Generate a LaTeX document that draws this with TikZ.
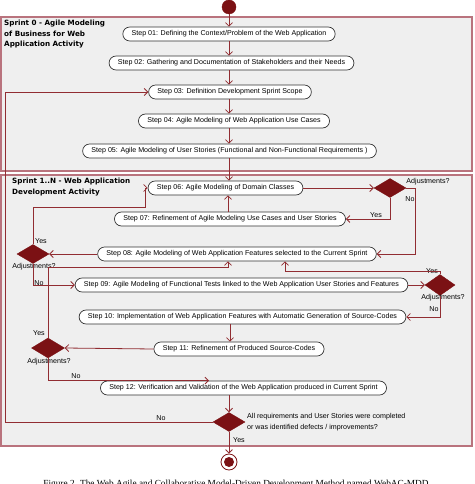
\documentclass[tikz,border=0pt]{standalone}
\usepackage{fontspec}
\setmainfont{Liberation Sans}
\newfontfamily\titlefont{DejaVu Sans}
\newfontfamily\capfont{Liberation Serif}
\usetikzlibrary{arrows.meta,shapes.geometric,shapes.misc}
\definecolor{conn}{RGB}{145,45,50}
\definecolor{dred}{RGB}{123,17,20}
\definecolor{framec}{RGB}{185,115,125}
\definecolor{bgc}{RGB}{239,239,239}
\definecolor{pillb}{RGB}{50,50,50}
\tikzset{
 stepbox/.style={draw=pillb, line width=0.7pt, fill=white, rounded rectangle, minimum height=14pt, inner xsep=8pt, inner ysep=0pt, font=\fontsize{7.1}{8}\selectfont},
 decision/.style={diamond, fill=dred, draw=dred, inner sep=0pt, minimum width=32pt, minimum height=19pt},
 flow/.style={draw=conn, line width=0.8pt, -{Straight Barb[length=3.5pt,width=7pt]}},
 lbl/.style={font=\fontsize{7.1}{11}\selectfont, inner sep=0pt},
 sprint/.style={draw=framec, line width=1.2pt, fill=bgc},
 ttl/.style={font=\titlefont\bfseries\fontsize{7.2}{10.5}\selectfont, align=left, inner sep=0pt, anchor=north west},
}
\begin{document}
\begin{tikzpicture}[x=1pt,y=-1pt]
\clip (0,0) rectangle (474,484);
\fill[white] (0,0) rectangle (474,484);
% sprint frames
\draw[sprint] (1,17) rectangle (472,171);
\draw[sprint] (1,175) rectangle (472,446);
\node[ttl] (t0) at (4,20) {Sprint 0 - Agile Modeling\\of Business for Web\\Application Activity};
\node[ttl] (t1) at (12,178) {Sprint 1..N - Web Application\\Development Activity};
\coordinate (spine) at (229,0);
% start / end
\node[circle, fill=dred, draw=dred, minimum size=14pt, inner sep=0pt] (start) at (229,7) {};
\node[circle, draw=dred, fill=white, line width=0.8pt, minimum size=16pt, inner sep=0pt] (end) at (229,462) {};
\node[circle, fill=dred, minimum size=10pt, inner sep=0pt] (endin) at (end) {};
% steps
\node[stepbox] (s01) at (229,34) {Step 01: Defining the Context/Problem of the Web Application};
\node[stepbox] (s02) at (231.5,63) {Step 02: Gathering and Documentation of Stakeholders and their Needs};
\node[stepbox] (s03) at (230,92) {Step 03: Definition Development Sprint Scope};
\node[stepbox] (s04) at (234,121) {Step 04: Agile Modeling of Web Application Use Cases};
\node[stepbox] (s05) at (229.5,151) {Step 05: Agile Modeling of User Stories (Functional and Non-Functional Requirements )};
\node[stepbox] (s06) at (225.5,188) {Step 06: Agile Modeling of Domain Classes};
\node[stepbox] (s07) at (230,219) {Step 07: Refinement of Agile Modeling Use Cases and User Stories};
\node[stepbox] (s08) at (237,254) {Step 08: Agile Modeling of Web Application Features selected to the Current Sprint};
\node[stepbox] (s09) at (241.5,285) {Step 09: Agile Modeling of Functional Tests linked to the Web Application User Stories and Features};
\node[stepbox] (s10) at (242.5,317) {Step 10: Implementation of Web Application Features with Automatic Generation of Source-Codes};
\node[stepbox] (s11) at (239,349) {Step 11: Refinement of Produced Source-Codes};
\node[stepbox] (s12) at (243.5,388) {Step 12: Verification and Validation of the Web Application produced in Current Sprint};
% decisions
\node[decision] (d1) at (390,188) {};
\node[decision] (d2) at (33,254) {};
\node[decision, minimum width=30pt, minimum height=21pt] (d3) at (440,285) {};
\node[decision, minimum width=33pt, minimum height=20pt] (d4) at (48,348) {};
\node[decision] (d5) at (229,422) {};
% labels
\node[lbl] (l1a) at (428,182) {Adjustments?};
\node[lbl] (l1n) at (410,199) {No};
\node[lbl] (l1y) at (376,215) {Yes};
\node[lbl] (l2y) at (41,241) {Yes};
\node[lbl] (l2a) at (34,267) {Adjustments?};
\node[lbl] (l2n) at (39,283) {No};
\node[lbl] (l3y) at (432,271) {Yes};
\node[lbl] (l3a) at (443,298) {Adjustments?};
\node[lbl] (l3n) at (434,309) {No};
\node[lbl] (l4y) at (39,333) {Yes};
\node[lbl] (l4a) at (49,362) {Adjustments?};
\node[lbl] (l4n) at (76,376) {No};
\node[lbl] (l5n) at (161,418) {No};
\node[lbl] (l5y) at (239,440) {Yes};
\node[lbl, align=left, anchor=west] (l5q) at (247,422) {All requirements and User Stories were completed\\or was identified defects / improvements?};
% connectors
\draw[flow] (start) -- (s01.north -| spine);
\draw[flow] (s01.south -| spine) -- (s02.north -| spine);
\draw[flow] (s02.south -| spine) -- (s03.north -| spine);
\draw[flow] (s03.south -| spine) -- (s04.north -| spine);
\draw[flow] (s04.south -| spine) -- (s05.north -| spine);
\draw[flow] (s05.south -| spine) -- (s06.north -| spine);
\draw[flow] (s06.east) -- (d1.west);
\draw[flow] (d1.south) |- (s07.east);
\draw[flow] (d1.east) -- ++(9,0) |- (s08.east);
\draw[flow] ([xshift=-1pt]s07.north -| spine) -- ([xshift=-1pt]s06.south -| spine);
\draw[flow] (s08.west) -- (d2.east);
\draw[flow] (d2.north) -- ++(0,-37) -- ++(112,0) |- (s06.west);
\draw[flow] (d2.south) |- (s09.west);
\draw[flow] (s09.east) -- (d3.west);
\draw[flow] (d3.north) -- ++(0,-3) -| ([xshift=48pt]s08.south);
\draw[flow] (d3.south) |- (s10.east);
\draw[flow] ([xshift=1pt]s10.south -| spine) -- ([xshift=1pt]s11.north -| spine);
\draw[flow] (s11.west) -- (d4.east);
\draw[flow] (d4.north) -- ++(0,-70) -| ([xshift=-9pt]s08.south);
\draw[flow] (d4.south) |- (s12.168);
\draw[flow] (s12.south -| spine) -- (d5.north);
\draw[flow] (d5.west) -- ++(-207,0) |- (s03.west);
\draw[flow] (d5.south) -- (end);
% caption (cut off at the bottom edge)
\node[font=\capfont\fontsize{9.3}{10}\selectfont, anchor=north, inner sep=0pt] (cap) at (236,479.5) {Figure 2. The Web Agile and Collaborative Model-Driven Development Method named WebAC-MDD};
\end{tikzpicture}
\end{document}
